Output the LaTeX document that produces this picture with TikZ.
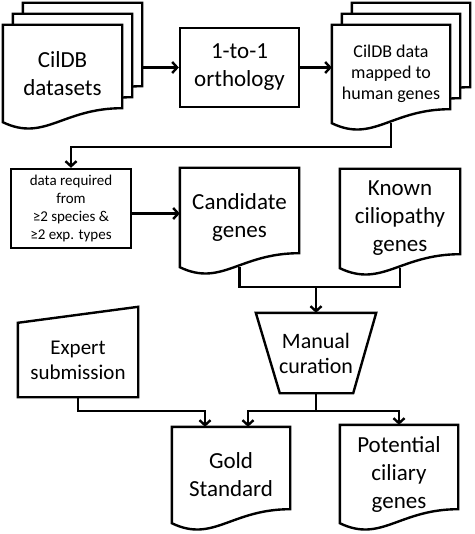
\documentclass[tikz,border=0pt]{standalone}
\usepackage{fontspec}
\setmainfont{Carlito}
\usetikzlibrary{calc,arrows.meta}

\newcommand{\bigtxt}{\fontsize{23}{28}\selectfont}
\newcommand{\midtxt}{\fontsize{18}{21}\selectfont}
\newcommand{\smalltxt}{\fontsize{15}{18.3}\selectfont}
\newcommand{\exptxt}{\fontsize{21}{25}\selectfont}
\newcommand{\curtxt}{\fontsize{22}{25}\selectfont}

\tikzset{
  docline/.style={line width=2.4pt, line join=miter},
  conn/.style={line width=2.4pt},
  arr/.style={conn, -{Straight Barb[length=5pt, width=11pt]}},
  page/.style={fill=white, minimum width=119pt, minimum height=97pt, inner sep=0pt, align=center, font=\bigtxt},
  box/.style={docline, draw, fill=white, minimum width=120pt, minimum height=79pt, inner sep=0pt, align=center, font=\bigtxt}
}

% outline of a page with a wavy bottom, round a node
\newcommand{\docshape}[1]{%
  \draw[docline] (#1.north west) -- (#1.north east)
    -- ($(#1.south east)+(0,-14)$)
    .. controls ($(#1.south west)!0.5!(#1.south east)+(0,-14)$)
    and ($(#1.south west)!0.35!(#1.south east)+(0,20)$)
    .. (#1.south west) -- cycle;}

\begin{document}
\begin{tikzpicture}[x=1pt, y=-1pt]
    \useasboundingbox (0,0) rectangle (474,534);

    %CilDB datasets
    \foreach \i in {2,1} {
        \node[page] (data\i) at ($(62.5,73.5)+(10*\i,-11*\i)$) {};
        \docshape{data\i}
    }
    \node[page] (data) at (62.5,73.5) {CilDB\\datasets};
    \docshape{data}

    %orthology
    \node[box, minimum width=119pt] (ortho) at (239.5,67.5) {1-to-1\\orthology};

    %mapped data
    \foreach \i in {2,1} {
        \node[page, minimum width=118pt, minimum height=98pt] (map\i) at ($(391,74)+(10*\i,-11*\i)$) {};
        \docshape{map\i}
    }
    \node[page, minimum width=118pt, minimum height=98pt, font=\midtxt] (map) at (391,74) {CilDB data\\mapped to\\human genes};
    \docshape{map}

    %filter
    \node[box, font=\smalltxt] (filter) at (71,208.5) {data required\\from\\≥2 species \&\\≥2 exp. types};

    %candidate and known genes
    \node[page, minimum height=99pt] (cand) at (239.5,217.5) {Candidate\\genes};
    \docshape{cand}
    \node[page, minimum width=120pt, minimum height=99pt] (known) at (400,218.5) {Known\\ciliopathy\\genes};
    \docshape{known}

    %manual curation
    \node[minimum width=120pt, minimum height=80pt, inner sep=0pt, align=center, font=\curtxt] (cur) at (316,353) {Manual\\curation};
    \draw[docline] (cur.north west) -- (cur.north east) -- ([xshift=-23pt]cur.south east) -- ([xshift=24pt]cur.south west) -- cycle;

    %expert submission
    \node[minimum width=120pt, minimum height=74pt, inner sep=0pt, align=center, font=\exptxt] (expert) at (78,360) {Expert\\submission};
    \draw[docline] (expert.south west) -- (expert.north west) -- ([yshift=16pt]expert.north east) -- (expert.south east) -- cycle;

    %results
    \node[page, minimum width=118pt, minimum height=96pt] (gold) at (231,475) {Gold\\Standard};
    \docshape{gold}
    \node[page, minimum width=118pt, minimum height=98pt] (pot) at (399,474) {Potential\\ciliary\\genes};
    \docshape{pot}

    %arrows
    \coordinate (merge) at (316,287);
    \coordinate (split) at (316,411);

    \draw[arr] (ortho.west -| data2.east) -- (ortho.west);
    \draw[arr] (ortho.east) -- (ortho.east -| map.west);
    \draw[arr] (map.south) -- ++(0,24) -| (filter.north);
    \draw[arr] ([yshift=-5pt]filter.east) -- ([yshift=-5pt]filter.east -| cand.west);

    \draw[conn] (cand.south) -- (cand.south |- merge) -- (known.south |- merge) -- (known.south);
    \draw[arr] (merge) -- (cur.north);

    \draw[conn] (cur.south) -- (split);
    \draw[arr] (split) -| ([xshift=17pt]gold.north);
    \draw[arr] (split) -| (pot.north);
    \draw[arr] (expert.south) -- ++(0,14) -| ([xshift=-26pt]gold.north);

\end{tikzpicture}
\end{document}
